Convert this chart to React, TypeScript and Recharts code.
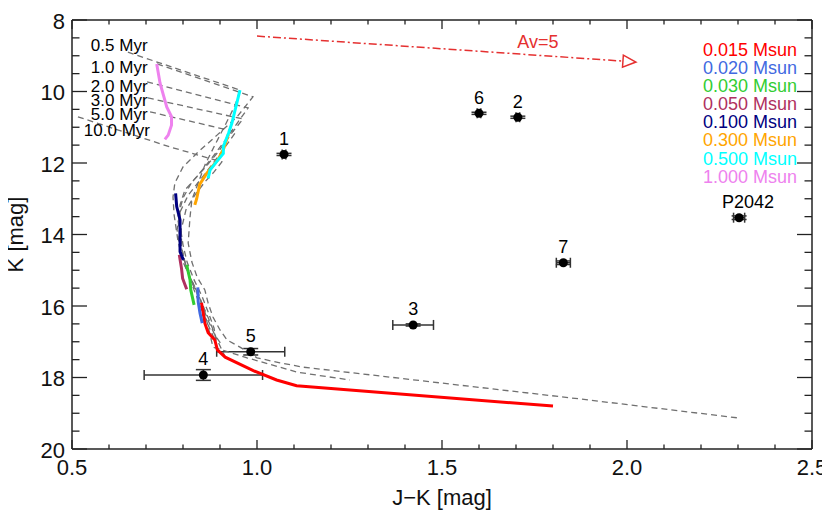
import React from 'react';
import { ScatterChart, Scatter, XAxis, YAxis, ErrorBar } from 'recharts';

// ---------- axes ----------
const xTicks = [0.5, 0.6, 0.7, 0.8, 0.9, 1.0, 1.1, 1.2, 1.3, 1.4, 1.5, 1.6, 1.7, 1.8, 1.9, 2.0, 2.1, 2.2, 2.3, 2.4, 2.5];
const yTicks = [8, 8.5, 9, 9.5, 10, 10.5, 11, 11.5, 12, 12.5, 13, 13.5, 14, 14.5, 15, 15.5, 16, 16.5, 17, 17.5, 18, 18.5, 19, 19.5, 20];

// ---------- isochrones (J-K, K) ----------
const iso05: number[][] = [[0.651, 8.90], [0.954, 9.96], [0.941, 10.38], [0.914, 10.94], [0.886, 11.50], [0.859, 12.06], [0.841, 12.56], [0.824, 13.03], [0.819, 13.51], [0.814, 14.24], [0.824, 14.77], [0.838, 15.19], [0.859, 15.55], [0.868, 15.92], [0.881, 16.31], [0.900, 16.67], [0.919, 16.95], [0.954, 17.15], [1.000, 17.45], [1.062, 17.59], [1.124, 17.71], [1.873, 18.60], [2.300, 19.13]];
const iso10: number[][] = [[0.730, 9.23], [0.989, 10.15], [0.946, 10.71], [0.892, 11.22], [0.838, 11.72], [0.800, 12.11], [0.778, 12.56], [0.773, 12.95], [0.776, 13.45], [0.786, 14.15], [0.800, 14.77], [0.819, 15.19], [0.843, 15.69], [0.857, 16.11], [0.870, 16.67], [0.881, 17.15], [0.973, 17.45], [1.108, 17.85], [1.251, 18.07]];
const iso20: number[][] = [[0.703, 9.73], [0.976, 10.46], [0.949, 10.85], [0.914, 11.36], [0.878, 11.86], [0.841, 12.34], [0.805, 12.76], [0.792, 13.17], [0.792, 13.73], [0.800, 14.29], [0.811, 14.77], [0.830, 15.27], [0.851, 15.72], [0.868, 16.17], [0.884, 16.62], [0.892, 17.23]];
const iso30: number[][] = [[0.705, 10.18], [0.962, 10.77], [0.932, 11.16], [0.895, 11.69], [0.859, 12.14], [0.824, 12.53], [0.800, 12.98], [0.786, 13.51], [0.792, 14.15], [0.805, 14.77], [0.819, 15.19], [0.838, 15.61], [0.857, 16.06], [0.873, 16.45], [0.889, 16.87], [0.914, 17.43]];
const iso50: number[][] = [[0.711, 10.57], [0.943, 11.13], [0.916, 11.52], [0.884, 11.97], [0.846, 12.48], [0.814, 12.90], [0.792, 13.37], [0.784, 13.87], [0.792, 14.43], [0.808, 14.94], [0.827, 15.41], [0.846, 15.83], [0.865, 16.34], [0.886, 16.81], [0.905, 17.09]];
const iso100: number[][] = [[0.516, 10.71], [0.765, 11.55], [0.905, 11.97], [0.884, 12.25], [0.859, 12.53], [0.832, 12.90], [0.808, 13.31], [0.795, 13.87], [0.797, 14.43], [0.811, 14.99], [0.830, 15.55], [0.851, 16.11], [0.868, 16.53], [0.884, 16.90]];
const isochrones = [iso05, iso10, iso20, iso30, iso50, iso100];

const ageLabels = ['0.5 Myr', '1.0 Myr', '2.0 Myr', '3.0 Myr', '5.0 Myr', '10.0 Myr'];
const ageLabelJK = [0.551, 0.551, 0.551, 0.551, 0.551, 0.532];
const ageLabelK = [8.70, 9.31, 9.85, 10.24, 10.63, 11.08];

// ---------- mass tracks ----------
const massLabels = ['0.015 Msun', '0.020 Msun', '0.030 Msun', '0.050 Msun', '0.100 Msun', '0.300 Msun', '0.500 Msun', '1.000 Msun'];
const massColors = ['#ff0000', '#4169e1', '#32cd32', '#b03060', '#000080', '#ffa500', '#00ffff', '#ee82ee'];
const track015: number[][] = [[0.850, 15.91], [0.859, 16.48], [0.868, 16.75], [0.886, 16.95], [0.893, 17.23], [0.914, 17.43], [0.990, 17.81], [1.053, 18.07], [1.107, 18.23], [1.800, 18.80]];
const track020: number[][] = [[0.840, 15.48], [0.841, 15.88], [0.846, 16.20], [0.852, 16.48]];
const track030: number[][] = [[0.810, 14.85], [0.819, 15.27], [0.821, 15.55], [0.830, 15.97]];
const track050: number[][] = [[0.790, 14.57], [0.796, 14.95], [0.799, 15.23], [0.810, 15.53]];
const track100: number[][] = [[0.780, 12.85], [0.783, 13.22], [0.792, 13.59], [0.792, 13.96], [0.792, 14.48], [0.801, 14.71]];
const track300: number[][] = [[0.923, 11.19], [0.910, 11.60], [0.895, 11.90], [0.864, 12.29], [0.845, 12.60], [0.837, 13.00], [0.832, 13.17]];
const track500: number[][] = [[0.954, 9.96], [0.932, 10.89], [0.923, 11.17], [0.909, 11.54], [0.909, 11.73], [0.891, 11.96], [0.873, 12.20], [0.868, 12.43]];
const track1000: number[][] = [[0.729, 9.23], [0.738, 9.77], [0.756, 10.43], [0.769, 10.70], [0.769, 10.94], [0.760, 11.22], [0.751, 11.34]];
const tracks = [track015, track020, track030, track050, track100, track300, track500, track1000];

// ---------- observed objects ----------
const starNames = ['1', '2', '3', '4', '5', '6', '7', 'P2042'];
const starJK = [1.073, 1.705, 1.422, 0.855, 0.983, 1.600, 1.828, 2.303];
const starK = [11.76, 10.72, 16.53, 17.93, 17.28, 10.61, 14.79, 13.53];
const starJKErr = [0.005, 0.005, 0.055, 0.16, 0.092, 0.005, 0.019, 0.015];
const starKErr = [0.03, 0.03, 0.03, 0.15, 0.09, 0.03, 0.05, 0.05];

// ---------- extinction vector ----------
const avLabel = 'Av=5';
const avJK = [1.0, 1.989];
const avK = [8.45, 9.15];
const avLabelJK = 1.759;
const avLabelK = 8.62;

const FONT = '"Liberation Sans", Arial, Helvetica, sans-serif';
const AXIS = '#222';
const AV_COLOR = '#e53030';

const toPts = (arr: number[][]) => arr.map(([jk, k]) => ({ jk, k }));
const stars = starNames.map((name, i) => ({ name, jk: starJK[i], k: starK[i], ex: starJKErr[i], ey: starKErr[i] }));
const ageData = ageLabels.map((text, i) => ({ text, jk: ageLabelJK[i], k: ageLabelK[i] }));
const avData = [
  { jk: avJK[0], k: avK[0], head: false },
  { jk: avJK[1], k: avK[1], head: true },
];
const avTextData = [{ jk: avLabelJK, k: avLabelK, text: avLabel }];

const isMajorX = (v: number) => Math.abs(v * 2 - Math.round(v * 2)) < 1e-6;
const isMajorY = (v: number) => Math.abs(v / 2 - Math.round(v / 2)) < 1e-6;

const makeTick = (side: 'bottom' | 'top' | 'left' | 'right') => (props: any) => {
  const { x, y, payload } = props;
  const v = Number(payload.value);
  if (side === 'bottom' || side === 'top') {
    const major = isMajorX(v);
    const len = major ? 9 : 4.5;
    const dir = side === 'bottom' ? -1 : 1;
    return (
      <g>
        <line x1={x} x2={x} y1={y} y2={y + dir * len} stroke={AXIS} strokeWidth={1.3} />
        {side === 'bottom' && major && (
          <text x={x} y={y + 18} dy="0.35em" textAnchor="middle" fontSize={22} fontFamily={FONT} fill="#111">
            {v.toFixed(1)}
          </text>
        )}
      </g>
    );
  }
  const major = isMajorY(v);
  const len = major ? 15 : 7.5;
  const dir = side === 'left' ? 1 : -1;
  return (
    <g>
      <line x1={x} x2={x + dir * len} y1={y} y2={y} stroke={AXIS} strokeWidth={1.3} />
      {side === 'left' && major && (
        <text x={x - 7} y={y + 1} dy="0.35em" textAnchor="end" fontSize={22} fontFamily={FONT} fill="#111">
          {String(Math.round(v))}
        </text>
      )}
    </g>
  );
};

const noShape = () => <g />;

const StarShape = (props: any) => {
  const { cx, cy, payload } = props;
  if (cx == null || cy == null) return <g />;
  const dx = payload.name.length > 1 ? 9 : 0;
  return (
    <g>
      <circle cx={cx} cy={cy} r={4.5} fill="#000" />
      <text x={cx + dx} y={cy - 16} dy="0.35em" textAnchor="middle" fontSize={18} fontFamily={FONT} fill="#000">
        {payload.name}
      </text>
    </g>
  );
};

const AgeLabelShape = (props: any) => {
  const { cx, cy, payload } = props;
  return (
    <text x={cx} y={cy} dy="0.35em" textAnchor="start" fontSize={17} fontFamily={FONT} fill="#000">
      {payload.text}
    </text>
  );
};

const AvTextShape = (props: any) => {
  const { cx, cy, payload } = props;
  return (
    <text x={cx} y={cy} dy="0.35em" textAnchor="middle" fontSize={18} fontFamily={FONT} fill={AV_COLOR}>
      {payload.text}
    </text>
  );
};

const AvHead = (props: any) => {
  const { cx, cy, payload } = props;
  if (!payload || !payload.head) return <g />;
  return (
    <polygon
      points={`${cx},${cy - 6} ${cx + 13},${cy} ${cx},${cy + 6}`}
      transform={`rotate(4 ${cx} ${cy})`}
      fill="none"
      stroke={AV_COLOR}
      strokeWidth={1.5}
    />
  );
};

const XTitle = (props: any) => {
  const vb = props.viewBox || {};
  return (
    <text x={vb.x + vb.width / 2} y={vb.y + 48} textAnchor="middle" dy="0.35em" fontSize={22} fontFamily={FONT} fill="#111">
      J−K [mag]
    </text>
  );
};

const YTitle = (props: any) => {
  const vb = props.viewBox || {};
  const cx = vb.x + 23;
  const cy = vb.y + vb.height / 2;
  return (
    <text x={cx} y={cy} textAnchor="middle" fontSize={22} fontFamily={FONT} fill="#111" transform={`rotate(-90 ${cx} ${cy})`}>
      K [mag]
    </text>
  );
};

export default function App() {
  return (
    <div style={{ position: 'relative', width: 830, height: 525, margin: '-8px 0 0 -8px', fontFamily: FONT, background: '#fff' }}>
      <ScatterChart width={830} height={525} margin={{ top: 0, right: 0, bottom: 0, left: 0 }}>
        <XAxis
          xAxisId="b"
          orientation="bottom"
          type="number"
          dataKey="jk"
          domain={[0.5, 2.5]}
          ticks={xTicks}
          interval={0}
          height={76}
          tickSize={0}
          tickMargin={0}
          tickLine={false}
          axisLine={{ stroke: AXIS, strokeWidth: 1.5 }}
          tick={makeTick('bottom')}
          allowDataOverflow
          label={<XTitle />}
        />
        <XAxis
          xAxisId="t"
          orientation="top"
          type="number"
          dataKey="jk"
          domain={[0.5, 2.5]}
          ticks={xTicks}
          interval={0}
          height={20}
          tickSize={0}
          tickMargin={0}
          tickLine={false}
          axisLine={{ stroke: AXIS, strokeWidth: 1.5 }}
          tick={makeTick('top')}
          allowDataOverflow
        />
        <YAxis
          yAxisId="l"
          orientation="left"
          type="number"
          dataKey="k"
          domain={[8, 20]}
          reversed
          ticks={yTicks}
          interval={0}
          width={72}
          tickSize={0}
          tickMargin={0}
          tickLine={false}
          axisLine={{ stroke: AXIS, strokeWidth: 1.5 }}
          tick={makeTick('left')}
          allowDataOverflow
          label={<YTitle />}
        />
        <YAxis
          yAxisId="r"
          orientation="right"
          type="number"
          dataKey="k"
          domain={[8, 20]}
          reversed
          ticks={yTicks}
          interval={0}
          width={18}
          tickSize={0}
          tickMargin={0}
          tickLine={false}
          axisLine={{ stroke: AXIS, strokeWidth: 1.5 }}
          tick={makeTick('right')}
          allowDataOverflow
        />

        {isochrones.map((iso, i) => (
          <Scatter
            key={`iso${i}`}
            xAxisId="b"
            yAxisId="l"
            data={toPts(iso)}
            line={{ stroke: '#707070', strokeWidth: 1.3, strokeDasharray: '6 4' }}
            shape={noShape}
            isAnimationActive={false}
          />
        ))}

        {tracks.map((tr, i) => (
          <Scatter
            key={`tr${i}`}
            xAxisId="b"
            yAxisId="l"
            data={toPts(tr)}
            line={{ stroke: massColors[i], strokeWidth: 3 }}
            shape={noShape}
            isAnimationActive={false}
          />
        ))}

        <Scatter
          xAxisId="b"
          yAxisId="l"
          data={avData}
          line={{ stroke: AV_COLOR, strokeWidth: 1.5, strokeDasharray: '8 3 2 3' }}
          shape={AvHead}
          isAnimationActive={false}
        />
        <Scatter xAxisId="b" yAxisId="l" data={avTextData} shape={AvTextShape} isAnimationActive={false} />
        <Scatter xAxisId="b" yAxisId="l" data={ageData} shape={AgeLabelShape} isAnimationActive={false} />

        <Scatter xAxisId="b" yAxisId="l" data={stars} shape={StarShape} isAnimationActive={false}>
          <ErrorBar dataKey="ex" direction="x" width={5} stroke="#333" strokeWidth={1.5} />
          <ErrorBar dataKey="ey" direction="y" width={7.5} stroke="#333" strokeWidth={1.5} />
        </Scatter>
      </ScatterChart>

      <div style={{ position: 'absolute', left: 703, top: 41, fontSize: 18, lineHeight: '18.1px', fontFamily: FONT }}>
        {massLabels.map((m, i) => (
          <div key={m} style={{ color: massColors[i], whiteSpace: 'nowrap' }}>{m}</div>
        ))}
      </div>
    </div>
  );
}
